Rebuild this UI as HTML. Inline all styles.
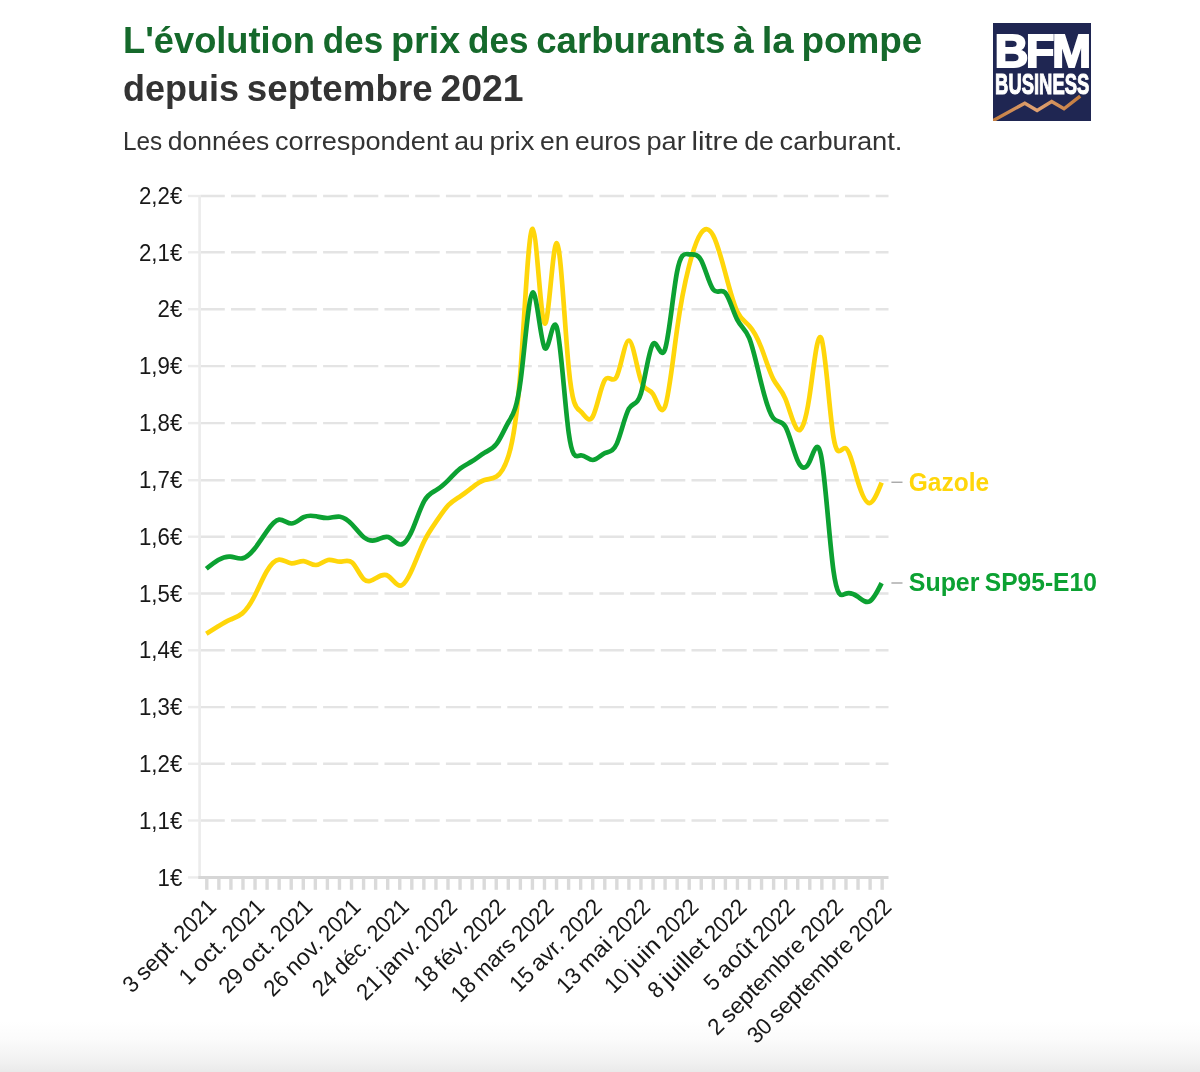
<!DOCTYPE html>
<html lang="fr"><head><meta charset="utf-8"><title>L'évolution des prix des carburants à la pompe</title>
<style>html,body{margin:0;padding:0;background:#fff;overflow:hidden;}svg{display:block;}text{font-family:"Liberation Sans",sans-serif;}</style></head><body>
<svg width="1200" height="1072" viewBox="0 0 1200 1072">
<defs><linearGradient id="bg" x1="0" y1="0" x2="0" y2="1"><stop offset="0.00" stop-color="#ffffff"/><stop offset="0.15" stop-color="#ffffff"/><stop offset="0.30" stop-color="#fdfdfd"/><stop offset="0.45" stop-color="#fbfbfb"/><stop offset="0.60" stop-color="#f7f7f7"/><stop offset="0.70" stop-color="#f5f5f5"/><stop offset="0.80" stop-color="#f2f2f2"/><stop offset="0.90" stop-color="#eeeeee"/><stop offset="1.00" stop-color="#eaeaea"/></linearGradient>
<linearGradient id="cu" x1="0" y1="0" x2="1" y2="0"><stop offset="0" stop-color="#c0793a"/><stop offset="0.5" stop-color="#e0a273"/><stop offset="1" stop-color="#c27a3c"/></linearGradient></defs>
<rect x="0" y="0" width="1200" height="1072" fill="#fff"/>
<rect x="0" y="1012" width="1200" height="60" fill="url(#bg)"/>
<text font-size="37" fill="#15692b" font-weight="700"><tspan x="123.00" y="53.1" textLength="191.99" lengthAdjust="spacingAndGlyphs">L'évolution</tspan> <tspan x="322.84" y="53.1" textLength="60.30" lengthAdjust="spacingAndGlyphs">des</tspan> <tspan x="390.99" y="53.1" textLength="69.24" lengthAdjust="spacingAndGlyphs">prix</tspan> <tspan x="468.06" y="53.1" textLength="60.32" lengthAdjust="spacingAndGlyphs">des</tspan> <tspan x="536.23" y="53.1" textLength="189.02" lengthAdjust="spacingAndGlyphs">carburants</tspan> <tspan x="733.10" y="53.1" textLength="20.73" lengthAdjust="spacingAndGlyphs">à</tspan> <tspan x="761.66" y="53.1" textLength="31.97" lengthAdjust="spacingAndGlyphs">la</tspan> <tspan x="801.48" y="53.1" textLength="120.91" lengthAdjust="spacingAndGlyphs">pompe</tspan></text>
<text font-size="37" fill="#333333" font-weight="700"><tspan x="123.00" y="100.8" textLength="116.00" lengthAdjust="spacingAndGlyphs">depuis</tspan> <tspan x="246.83" y="100.8" textLength="185.78" lengthAdjust="spacingAndGlyphs">septembre</tspan> <tspan x="440.47" y="100.8" textLength="83.02" lengthAdjust="spacingAndGlyphs">2021</tspan></text>
<text font-size="26.3" fill="#333333"><tspan x="123.00" y="149.7" textLength="39.18" lengthAdjust="spacingAndGlyphs">Les</tspan> <tspan x="167.80" y="149.7" textLength="101.57" lengthAdjust="spacingAndGlyphs">données</tspan> <tspan x="274.99" y="149.7" textLength="173.59" lengthAdjust="spacingAndGlyphs">correspondent</tspan> <tspan x="454.21" y="149.7" textLength="29.57" lengthAdjust="spacingAndGlyphs">au</tspan> <tspan x="489.41" y="149.7" textLength="44.96" lengthAdjust="spacingAndGlyphs">prix</tspan> <tspan x="539.99" y="149.7" textLength="29.42" lengthAdjust="spacingAndGlyphs">en</tspan> <tspan x="575.03" y="149.7" textLength="65.87" lengthAdjust="spacingAndGlyphs">euros</tspan> <tspan x="646.53" y="149.7" textLength="39.27" lengthAdjust="spacingAndGlyphs">par</tspan> <tspan x="691.42" y="149.7" textLength="47.16" lengthAdjust="spacingAndGlyphs">litre</tspan> <tspan x="744.21" y="149.7" textLength="29.65" lengthAdjust="spacingAndGlyphs">de</tspan> <tspan x="779.48" y="149.7" textLength="122.99" lengthAdjust="spacingAndGlyphs">carburant.</tspan></text>
<g id="logo"><clipPath id="lc"><rect x="993" y="23" width="98" height="98"/></clipPath><rect x="993" y="23" width="98" height="98" fill="#1f2652"/>
<g clip-path="url(#lc)">
<text x="994.4" y="67.4" font-size="46" font-weight="700" fill="#fff" stroke="#fff" stroke-width="1.8" stroke-linejoin="miter" letter-spacing="-2.5" textLength="94.2" lengthAdjust="spacingAndGlyphs">BFM</text>
<text x="995.1" y="94" font-size="30.1" font-weight="700" fill="#fff" stroke="#fff" stroke-width="1.1" textLength="94.2" lengthAdjust="spacingAndGlyphs">BUSINESS</text>
<polyline points="990,122.3 1024.8,103.2 1037.1,110.4 1051.7,101.5 1064,108.8 1080.2,96.2" fill="none" stroke="url(#cu)" stroke-width="3.4" stroke-linejoin="miter"/></g></g>
<line x1="200.3" x2="888.5" y1="196.00" y2="196.00" stroke="#e4e4e4" stroke-width="2.4" stroke-dasharray="24.5 6.2"/>
<line x1="188" x2="200" y1="196.00" y2="196.00" stroke="#ececec" stroke-width="2.4"/>
<text x="182.3" y="203.70" font-size="23.1" fill="#181818" text-anchor="end" textLength="43.3" lengthAdjust="spacingAndGlyphs">2,2€</text>
<line x1="200.3" x2="888.5" y1="252.30" y2="252.30" stroke="#e4e4e4" stroke-width="2.4" stroke-dasharray="24.5 6.2"/>
<line x1="188" x2="200" y1="252.30" y2="252.30" stroke="#ececec" stroke-width="2.4"/>
<text x="182.3" y="260.54" font-size="23.1" fill="#181818" text-anchor="end" textLength="43.3" lengthAdjust="spacingAndGlyphs">2,1€</text>
<line x1="200.3" x2="888.5" y1="309.20" y2="309.20" stroke="#e4e4e4" stroke-width="2.4" stroke-dasharray="24.5 6.2"/>
<line x1="188" x2="200" y1="309.20" y2="309.20" stroke="#ececec" stroke-width="2.4"/>
<text x="182.3" y="317.38" font-size="23.1" fill="#181818" text-anchor="end" textLength="24.7" lengthAdjust="spacingAndGlyphs">2€</text>
<line x1="200.3" x2="888.5" y1="366.10" y2="366.10" stroke="#e4e4e4" stroke-width="2.4" stroke-dasharray="24.5 6.2"/>
<line x1="188" x2="200" y1="366.10" y2="366.10" stroke="#ececec" stroke-width="2.4"/>
<text x="182.3" y="374.22" font-size="23.1" fill="#181818" text-anchor="end" textLength="43.3" lengthAdjust="spacingAndGlyphs">1,9€</text>
<line x1="200.3" x2="888.5" y1="423.10" y2="423.10" stroke="#e4e4e4" stroke-width="2.4" stroke-dasharray="24.5 6.2"/>
<line x1="188" x2="200" y1="423.10" y2="423.10" stroke="#ececec" stroke-width="2.4"/>
<text x="182.3" y="431.06" font-size="23.1" fill="#181818" text-anchor="end" textLength="43.3" lengthAdjust="spacingAndGlyphs">1,8€</text>
<line x1="200.3" x2="888.5" y1="480.20" y2="480.20" stroke="#e4e4e4" stroke-width="2.4" stroke-dasharray="24.5 6.2"/>
<line x1="188" x2="200" y1="480.20" y2="480.20" stroke="#ececec" stroke-width="2.4"/>
<text x="182.3" y="487.90" font-size="23.1" fill="#181818" text-anchor="end" textLength="43.3" lengthAdjust="spacingAndGlyphs">1,7€</text>
<line x1="200.3" x2="888.5" y1="536.70" y2="536.70" stroke="#e4e4e4" stroke-width="2.4" stroke-dasharray="24.5 6.2"/>
<line x1="188" x2="200" y1="536.70" y2="536.70" stroke="#ececec" stroke-width="2.4"/>
<text x="182.3" y="544.74" font-size="23.1" fill="#181818" text-anchor="end" textLength="43.3" lengthAdjust="spacingAndGlyphs">1,6€</text>
<line x1="200.3" x2="888.5" y1="593.50" y2="593.50" stroke="#e4e4e4" stroke-width="2.4" stroke-dasharray="24.5 6.2"/>
<line x1="188" x2="200" y1="593.50" y2="593.50" stroke="#ececec" stroke-width="2.4"/>
<text x="182.3" y="601.58" font-size="23.1" fill="#181818" text-anchor="end" textLength="43.3" lengthAdjust="spacingAndGlyphs">1,5€</text>
<line x1="200.3" x2="888.5" y1="650.30" y2="650.30" stroke="#e4e4e4" stroke-width="2.4" stroke-dasharray="24.5 6.2"/>
<line x1="188" x2="200" y1="650.30" y2="650.30" stroke="#ececec" stroke-width="2.4"/>
<text x="182.3" y="658.42" font-size="23.1" fill="#181818" text-anchor="end" textLength="43.3" lengthAdjust="spacingAndGlyphs">1,4€</text>
<line x1="200.3" x2="888.5" y1="707.10" y2="707.10" stroke="#e4e4e4" stroke-width="2.4" stroke-dasharray="24.5 6.2"/>
<line x1="188" x2="200" y1="707.10" y2="707.10" stroke="#ececec" stroke-width="2.4"/>
<text x="182.3" y="715.26" font-size="23.1" fill="#181818" text-anchor="end" textLength="43.3" lengthAdjust="spacingAndGlyphs">1,3€</text>
<line x1="200.3" x2="888.5" y1="763.80" y2="763.80" stroke="#e4e4e4" stroke-width="2.4" stroke-dasharray="24.5 6.2"/>
<line x1="188" x2="200" y1="763.80" y2="763.80" stroke="#ececec" stroke-width="2.4"/>
<text x="182.3" y="772.10" font-size="23.1" fill="#181818" text-anchor="end" textLength="43.3" lengthAdjust="spacingAndGlyphs">1,2€</text>
<line x1="200.3" x2="888.5" y1="820.50" y2="820.50" stroke="#e4e4e4" stroke-width="2.4" stroke-dasharray="24.5 6.2"/>
<line x1="188" x2="200" y1="820.50" y2="820.50" stroke="#ececec" stroke-width="2.4"/>
<text x="182.3" y="828.94" font-size="23.1" fill="#181818" text-anchor="end" textLength="43.3" lengthAdjust="spacingAndGlyphs">1,1€</text>
<line x1="188" x2="200" y1="877.40" y2="877.40" stroke="#ececec" stroke-width="2.4"/>
<text x="182.3" y="885.78" font-size="23.1" fill="#181818" text-anchor="end" textLength="24.7" lengthAdjust="spacingAndGlyphs">1€</text>
<line x1="199.6" x2="199.6" y1="195" y2="878.8" stroke="#ececec" stroke-width="2.7"/>
<line x1="198.3" x2="888.5" y1="877.5" y2="877.5" stroke="#d6d6d6" stroke-width="2.8"/>
<line x1="206.80" x2="206.80" y1="878.5" y2="889.8" stroke="#dadada" stroke-width="3.4"/>
<line x1="218.86" x2="218.86" y1="878.5" y2="889.8" stroke="#dadada" stroke-width="3.4"/>
<line x1="230.92" x2="230.92" y1="878.5" y2="889.8" stroke="#dadada" stroke-width="3.4"/>
<line x1="242.98" x2="242.98" y1="878.5" y2="889.8" stroke="#dadada" stroke-width="3.4"/>
<line x1="255.04" x2="255.04" y1="878.5" y2="889.8" stroke="#dadada" stroke-width="3.4"/>
<line x1="267.10" x2="267.10" y1="878.5" y2="889.8" stroke="#dadada" stroke-width="3.4"/>
<line x1="279.16" x2="279.16" y1="878.5" y2="889.8" stroke="#dadada" stroke-width="3.4"/>
<line x1="291.22" x2="291.22" y1="878.5" y2="889.8" stroke="#dadada" stroke-width="3.4"/>
<line x1="303.28" x2="303.28" y1="878.5" y2="889.8" stroke="#dadada" stroke-width="3.4"/>
<line x1="315.34" x2="315.34" y1="878.5" y2="889.8" stroke="#dadada" stroke-width="3.4"/>
<line x1="327.40" x2="327.40" y1="878.5" y2="889.8" stroke="#dadada" stroke-width="3.4"/>
<line x1="339.46" x2="339.46" y1="878.5" y2="889.8" stroke="#dadada" stroke-width="3.4"/>
<line x1="351.52" x2="351.52" y1="878.5" y2="889.8" stroke="#dadada" stroke-width="3.4"/>
<line x1="363.58" x2="363.58" y1="878.5" y2="889.8" stroke="#dadada" stroke-width="3.4"/>
<line x1="375.64" x2="375.64" y1="878.5" y2="889.8" stroke="#dadada" stroke-width="3.4"/>
<line x1="387.70" x2="387.70" y1="878.5" y2="889.8" stroke="#dadada" stroke-width="3.4"/>
<line x1="399.76" x2="399.76" y1="878.5" y2="889.8" stroke="#dadada" stroke-width="3.4"/>
<line x1="411.82" x2="411.82" y1="878.5" y2="889.8" stroke="#dadada" stroke-width="3.4"/>
<line x1="423.88" x2="423.88" y1="878.5" y2="889.8" stroke="#dadada" stroke-width="3.4"/>
<line x1="435.94" x2="435.94" y1="878.5" y2="889.8" stroke="#dadada" stroke-width="3.4"/>
<line x1="448.00" x2="448.00" y1="878.5" y2="889.8" stroke="#dadada" stroke-width="3.4"/>
<line x1="460.06" x2="460.06" y1="878.5" y2="889.8" stroke="#dadada" stroke-width="3.4"/>
<line x1="472.12" x2="472.12" y1="878.5" y2="889.8" stroke="#dadada" stroke-width="3.4"/>
<line x1="484.18" x2="484.18" y1="878.5" y2="889.8" stroke="#dadada" stroke-width="3.4"/>
<line x1="496.24" x2="496.24" y1="878.5" y2="889.8" stroke="#dadada" stroke-width="3.4"/>
<line x1="508.30" x2="508.30" y1="878.5" y2="889.8" stroke="#dadada" stroke-width="3.4"/>
<line x1="520.36" x2="520.36" y1="878.5" y2="889.8" stroke="#dadada" stroke-width="3.4"/>
<line x1="532.42" x2="532.42" y1="878.5" y2="889.8" stroke="#dadada" stroke-width="3.4"/>
<line x1="544.48" x2="544.48" y1="878.5" y2="889.8" stroke="#dadada" stroke-width="3.4"/>
<line x1="556.54" x2="556.54" y1="878.5" y2="889.8" stroke="#dadada" stroke-width="3.4"/>
<line x1="568.60" x2="568.60" y1="878.5" y2="889.8" stroke="#dadada" stroke-width="3.4"/>
<line x1="580.66" x2="580.66" y1="878.5" y2="889.8" stroke="#dadada" stroke-width="3.4"/>
<line x1="592.72" x2="592.72" y1="878.5" y2="889.8" stroke="#dadada" stroke-width="3.4"/>
<line x1="604.78" x2="604.78" y1="878.5" y2="889.8" stroke="#dadada" stroke-width="3.4"/>
<line x1="616.84" x2="616.84" y1="878.5" y2="889.8" stroke="#dadada" stroke-width="3.4"/>
<line x1="628.90" x2="628.90" y1="878.5" y2="889.8" stroke="#dadada" stroke-width="3.4"/>
<line x1="640.96" x2="640.96" y1="878.5" y2="889.8" stroke="#dadada" stroke-width="3.4"/>
<line x1="653.02" x2="653.02" y1="878.5" y2="889.8" stroke="#dadada" stroke-width="3.4"/>
<line x1="665.08" x2="665.08" y1="878.5" y2="889.8" stroke="#dadada" stroke-width="3.4"/>
<line x1="677.14" x2="677.14" y1="878.5" y2="889.8" stroke="#dadada" stroke-width="3.4"/>
<line x1="689.20" x2="689.20" y1="878.5" y2="889.8" stroke="#dadada" stroke-width="3.4"/>
<line x1="701.26" x2="701.26" y1="878.5" y2="889.8" stroke="#dadada" stroke-width="3.4"/>
<line x1="713.32" x2="713.32" y1="878.5" y2="889.8" stroke="#dadada" stroke-width="3.4"/>
<line x1="725.38" x2="725.38" y1="878.5" y2="889.8" stroke="#dadada" stroke-width="3.4"/>
<line x1="737.44" x2="737.44" y1="878.5" y2="889.8" stroke="#dadada" stroke-width="3.4"/>
<line x1="749.50" x2="749.50" y1="878.5" y2="889.8" stroke="#dadada" stroke-width="3.4"/>
<line x1="761.56" x2="761.56" y1="878.5" y2="889.8" stroke="#dadada" stroke-width="3.4"/>
<line x1="773.62" x2="773.62" y1="878.5" y2="889.8" stroke="#dadada" stroke-width="3.4"/>
<line x1="785.68" x2="785.68" y1="878.5" y2="889.8" stroke="#dadada" stroke-width="3.4"/>
<line x1="797.74" x2="797.74" y1="878.5" y2="889.8" stroke="#dadada" stroke-width="3.4"/>
<line x1="809.80" x2="809.80" y1="878.5" y2="889.8" stroke="#dadada" stroke-width="3.4"/>
<line x1="821.86" x2="821.86" y1="878.5" y2="889.8" stroke="#dadada" stroke-width="3.4"/>
<line x1="833.92" x2="833.92" y1="878.5" y2="889.8" stroke="#dadada" stroke-width="3.4"/>
<line x1="845.98" x2="845.98" y1="878.5" y2="889.8" stroke="#dadada" stroke-width="3.4"/>
<line x1="858.04" x2="858.04" y1="878.5" y2="889.8" stroke="#dadada" stroke-width="3.4"/>
<line x1="870.10" x2="870.10" y1="878.5" y2="889.8" stroke="#dadada" stroke-width="3.4"/>
<line x1="882.16" x2="882.16" y1="878.5" y2="889.8" stroke="#dadada" stroke-width="3.4"/>
<text font-size="23.1" fill="#181818" transform="translate(217.50,908.5) rotate(-45)"><tspan x="-120.83" y="0" textLength="12.19" lengthAdjust="spacingAndGlyphs">3</tspan> <tspan x="-103.76" y="0" textLength="50.16" lengthAdjust="spacingAndGlyphs">sept.</tspan> <tspan x="-48.73" y="0" textLength="48.73" lengthAdjust="spacingAndGlyphs">2021</tspan></text>
<text font-size="23.1" fill="#181818" transform="translate(265.74,908.5) rotate(-45)"><tspan x="-109.44" y="0" textLength="12.19" lengthAdjust="spacingAndGlyphs">1</tspan> <tspan x="-92.37" y="0" textLength="38.77" lengthAdjust="spacingAndGlyphs">oct.</tspan> <tspan x="-48.73" y="0" textLength="48.73" lengthAdjust="spacingAndGlyphs">2021</tspan></text>
<text font-size="23.1" fill="#181818" transform="translate(313.98,908.5) rotate(-45)"><tspan x="-121.62" y="0" textLength="24.36" lengthAdjust="spacingAndGlyphs">29</tspan> <tspan x="-92.37" y="0" textLength="38.77" lengthAdjust="spacingAndGlyphs">oct.</tspan> <tspan x="-48.71" y="0" textLength="48.71" lengthAdjust="spacingAndGlyphs">2021</tspan></text>
<text font-size="23.1" fill="#181818" transform="translate(362.22,908.5) rotate(-45)"><tspan x="-126.16" y="0" textLength="24.36" lengthAdjust="spacingAndGlyphs">26</tspan> <tspan x="-96.91" y="0" textLength="43.31" lengthAdjust="spacingAndGlyphs">nov.</tspan> <tspan x="-48.73" y="0" textLength="48.73" lengthAdjust="spacingAndGlyphs">2021</tspan></text>
<text font-size="23.1" fill="#181818" transform="translate(410.46,908.5) rotate(-45)"><tspan x="-125.90" y="0" textLength="24.36" lengthAdjust="spacingAndGlyphs">24</tspan> <tspan x="-96.65" y="0" textLength="43.05" lengthAdjust="spacingAndGlyphs">déc.</tspan> <tspan x="-48.73" y="0" textLength="48.73" lengthAdjust="spacingAndGlyphs">2021</tspan></text>
<text font-size="23.1" fill="#181818" transform="translate(458.70,908.5) rotate(-45)"><tspan x="-131.37" y="0" textLength="24.36" lengthAdjust="spacingAndGlyphs">21</tspan> <tspan x="-102.13" y="0" textLength="48.53" lengthAdjust="spacingAndGlyphs">janv.</tspan> <tspan x="-48.73" y="0" textLength="48.73" lengthAdjust="spacingAndGlyphs">2022</tspan></text>
<text font-size="23.1" fill="#181818" transform="translate(506.94,908.5) rotate(-45)"><tspan x="-118.75" y="0" textLength="24.36" lengthAdjust="spacingAndGlyphs">18</tspan> <tspan x="-89.51" y="0" textLength="35.91" lengthAdjust="spacingAndGlyphs">fév.</tspan> <tspan x="-48.73" y="0" textLength="48.73" lengthAdjust="spacingAndGlyphs">2022</tspan></text>
<text font-size="23.1" fill="#181818" transform="translate(555.18,908.5) rotate(-45)"><tspan x="-134.21" y="0" textLength="24.36" lengthAdjust="spacingAndGlyphs">18</tspan> <tspan x="-104.96" y="0" textLength="51.36" lengthAdjust="spacingAndGlyphs">mars</tspan> <tspan x="-48.73" y="0" textLength="48.73" lengthAdjust="spacingAndGlyphs">2022</tspan></text>
<text font-size="23.1" fill="#181818" transform="translate(603.42,908.5) rotate(-45)"><tspan x="-119.86" y="0" textLength="24.36" lengthAdjust="spacingAndGlyphs">15</tspan> <tspan x="-90.62" y="0" textLength="37.01" lengthAdjust="spacingAndGlyphs">avr.</tspan> <tspan x="-48.71" y="0" textLength="48.71" lengthAdjust="spacingAndGlyphs">2022</tspan></text>
<text font-size="23.1" fill="#181818" transform="translate(651.66,908.5) rotate(-45)"><tspan x="-121.56" y="0" textLength="24.36" lengthAdjust="spacingAndGlyphs">13</tspan> <tspan x="-92.31" y="0" textLength="38.71" lengthAdjust="spacingAndGlyphs">mai</tspan> <tspan x="-48.71" y="0" textLength="48.71" lengthAdjust="spacingAndGlyphs">2022</tspan></text>
<text font-size="23.1" fill="#181818" transform="translate(699.90,908.5) rotate(-45)"><tspan x="-121.68" y="0" textLength="24.36" lengthAdjust="spacingAndGlyphs">10</tspan> <tspan x="-92.44" y="0" textLength="38.83" lengthAdjust="spacingAndGlyphs">juin</tspan> <tspan x="-48.73" y="0" textLength="48.73" lengthAdjust="spacingAndGlyphs">2022</tspan></text>
<text font-size="23.1" fill="#181818" transform="translate(748.14,908.5) rotate(-45)"><tspan x="-128.79" y="0" textLength="12.19" lengthAdjust="spacingAndGlyphs">8</tspan> <tspan x="-111.72" y="0" textLength="58.12" lengthAdjust="spacingAndGlyphs">juillet</tspan> <tspan x="-48.73" y="0" textLength="48.73" lengthAdjust="spacingAndGlyphs">2022</tspan></text>
<text font-size="23.1" fill="#181818" transform="translate(796.38,908.5) rotate(-45)"><tspan x="-117.94" y="0" textLength="12.19" lengthAdjust="spacingAndGlyphs">5</tspan> <tspan x="-100.87" y="0" textLength="47.25" lengthAdjust="spacingAndGlyphs">août</tspan> <tspan x="-48.73" y="0" textLength="48.73" lengthAdjust="spacingAndGlyphs">2022</tspan></text>
<text font-size="23.1" fill="#181818" transform="translate(844.62,908.5) rotate(-45)"><tspan x="-180.66" y="0" textLength="12.19" lengthAdjust="spacingAndGlyphs">2</tspan> <tspan x="-163.59" y="0" textLength="109.98" lengthAdjust="spacingAndGlyphs">septembre</tspan> <tspan x="-48.73" y="0" textLength="48.73" lengthAdjust="spacingAndGlyphs">2022</tspan></text>
<text font-size="23.1" fill="#181818" transform="translate(892.86,908.5) rotate(-45)"><tspan x="-192.83" y="0" textLength="24.36" lengthAdjust="spacingAndGlyphs">30</tspan> <tspan x="-163.59" y="0" textLength="109.98" lengthAdjust="spacingAndGlyphs">septembre</tspan> <tspan x="-48.71" y="0" textLength="48.71" lengthAdjust="spacingAndGlyphs">2022</tspan></text>
<path d="M206.30,633.70C210.28,631.23 214.26,628.76 218.23,626.30C222.25,623.82 226.26,621.34 230.27,619.60C234.28,617.86 238.29,616.84 242.30,613.40C246.38,609.90 250.46,603.89 254.54,596.00C258.61,588.11 262.69,578.33 266.77,571.30C270.88,564.21 274.99,559.91 279.10,559.60C283.22,559.29 287.33,562.95 291.44,563.30C295.52,563.64 299.59,560.72 303.67,561.10C307.78,561.49 311.89,565.24 316.01,565.00C320.02,564.77 324.03,560.75 328.04,560.00C332.05,559.25 336.06,561.78 340.07,561.70C344.09,561.62 348.10,558.92 352.11,562.50C356.12,566.08 360.13,575.94 364.14,579.50C368.15,583.06 372.16,580.33 376.18,577.90C380.19,575.47 384.20,573.34 388.21,575.90C392.22,578.46 396.23,585.69 400.24,585.60C404.26,585.51 408.27,578.09 412.28,569.00C416.29,559.91 420.30,549.16 424.31,541.00C428.32,532.84 432.33,527.27 436.35,521.40C440.36,515.53 444.37,509.36 448.38,505.20C452.39,501.04 456.40,498.87 460.41,496.20C464.43,493.53 468.44,490.34 472.45,487.30C476.46,484.26 480.47,481.38 484.48,480.10C488.49,478.82 492.50,479.15 496.52,476.50C500.53,473.85 504.54,468.20 508.55,455.60C512.56,443.00 516.57,423.43 520.58,369.60C524.60,315.77 528.61,227.69 532.62,228.80C536.63,229.91 540.64,320.23 544.65,323.50C548.66,326.77 552.67,243.00 556.69,243.00C560.70,243.00 564.71,326.78 568.72,368.00C572.73,409.22 576.74,407.87 580.75,411.50C584.77,415.13 588.78,423.74 592.79,416.50C596.80,409.26 600.81,386.17 604.82,380.00C608.83,373.83 612.84,384.59 616.86,376.20C620.87,367.81 624.88,340.27 628.89,340.50C632.90,340.73 636.91,368.74 640.92,380.50C644.94,392.26 648.95,387.76 652.96,394.00C656.97,400.24 660.98,417.22 664.99,406.70C669.00,396.18 673.01,358.16 677.03,329.50C681.04,300.84 685.05,281.54 689.06,266.00C693.07,250.46 697.08,238.67 701.09,233.00C705.11,227.33 709.12,227.77 713.13,235.30C717.14,242.83 721.15,257.46 725.16,272.50C729.17,287.54 733.18,303.01 737.20,311.50C741.21,319.99 745.22,321.50 749.23,325.80C753.24,330.10 757.25,337.19 761.26,347.50C765.28,357.81 769.29,371.33 773.30,379.10C777.31,386.87 781.32,388.90 785.33,398.60C789.34,408.30 793.35,425.67 797.37,429.40C801.38,433.13 805.39,423.22 809.40,397.00C813.41,370.78 817.42,328.24 821.43,338.70C825.45,349.16 829.46,412.62 833.47,437.00C837.48,461.38 841.49,446.69 845.50,448.10C849.51,449.51 853.52,467.02 857.54,480.50C861.55,493.98 865.56,503.42 869.57,503.10C873.58,502.78 877.59,492.69 881.60,482.60" fill="none" stroke="#ffd60a" stroke-width="4.7" stroke-linejoin="round"/>
<path d="M206.30,568.80C210.28,565.56 214.26,562.33 218.23,560.00C222.25,557.65 226.26,556.23 230.27,556.60C234.28,556.97 238.29,559.13 242.30,558.40C246.38,557.66 250.46,553.92 254.54,548.80C258.61,543.68 262.69,537.18 266.77,531.30C270.88,525.37 274.99,520.07 279.10,519.60C283.22,519.13 287.33,523.50 291.44,523.50C295.52,523.50 299.59,519.20 303.67,517.20C307.78,515.19 311.89,515.52 316.01,516.30C320.02,517.06 324.03,518.25 328.04,518.00C332.05,517.75 336.06,516.08 340.07,516.70C344.09,517.32 348.10,520.24 352.11,524.50C356.12,528.76 360.13,534.36 364.14,537.50C368.15,540.64 372.16,541.33 376.18,540.10C380.19,538.87 384.20,535.74 388.21,537.10C392.22,538.46 396.23,544.32 400.24,544.50C404.26,544.68 408.27,539.20 412.28,530.00C416.29,520.80 420.30,507.90 424.31,500.80C428.32,493.70 432.33,492.39 436.35,490.00C440.36,487.61 444.37,484.12 448.38,480.10C452.39,476.08 456.40,471.51 460.41,468.40C464.43,465.29 468.44,463.64 472.45,461.10C476.46,458.56 480.47,455.12 484.48,452.80C488.49,450.48 492.50,449.29 496.52,443.90C500.53,438.51 504.54,428.94 508.55,422.00C512.56,415.06 516.57,410.77 520.58,380.70C524.60,350.63 528.61,294.79 532.62,292.60C536.63,290.41 540.64,341.88 544.65,347.90C548.66,353.92 552.67,314.51 556.69,327.00C560.70,339.49 564.71,403.89 568.72,433.00C572.73,462.11 576.74,455.94 580.75,455.40C584.77,454.86 588.78,459.94 592.79,460.00C596.80,460.06 600.81,455.09 604.82,453.20C608.83,451.31 612.84,452.51 616.86,443.60C620.87,434.69 624.88,415.69 628.89,408.70C632.90,401.71 636.91,406.74 640.92,393.50C644.94,380.26 648.95,348.74 652.96,343.90C656.97,339.06 660.98,360.91 664.99,349.40C669.00,337.89 673.01,293.01 677.03,272.00C681.04,250.99 685.05,253.86 689.06,254.30C693.07,254.74 697.08,252.74 701.09,260.10C705.11,267.46 709.12,284.17 713.13,289.40C717.14,294.63 721.15,288.38 725.16,292.70C729.17,297.02 733.18,311.90 737.20,319.70C741.21,327.50 745.22,328.22 749.23,338.10C753.24,347.98 757.25,367.02 761.26,383.30C765.28,399.58 769.29,413.10 773.30,418.10C777.31,423.10 781.32,419.59 785.33,426.50C789.34,433.41 793.35,450.74 797.37,460.00C801.38,469.26 805.39,470.46 809.40,462.00C813.41,453.54 817.42,435.42 821.43,457.50C825.45,479.58 829.46,541.87 833.47,570.80C837.48,599.73 841.49,595.30 845.50,593.80C849.51,592.30 853.52,593.72 857.54,596.50C861.55,599.28 865.56,603.41 869.57,601.40C873.58,599.39 877.59,591.25 881.60,583.10" fill="none" stroke="#0ca132" stroke-width="4.7" stroke-linejoin="round"/>
<line x1="891.4" x2="902.5" y1="482.2" y2="482.2" stroke="#8f8f8f" stroke-width="1.1"/>
<line x1="891.4" x2="902.5" y1="583" y2="583" stroke="#8f8f8f" stroke-width="1.1"/>
<text font-size="25.3" fill="#ffd60a" font-weight="700"><tspan x="908.80" y="490.6" textLength="80.39" lengthAdjust="spacingAndGlyphs">Gazole</tspan></text>
<text font-size="25.3" fill="#0ca132" font-weight="700"><tspan x="908.80" y="591" textLength="70.63" lengthAdjust="spacingAndGlyphs">Super</tspan> <tspan x="984.82" y="591" textLength="112.03" lengthAdjust="spacingAndGlyphs">SP95-E10</tspan></text>
</svg></body></html>
